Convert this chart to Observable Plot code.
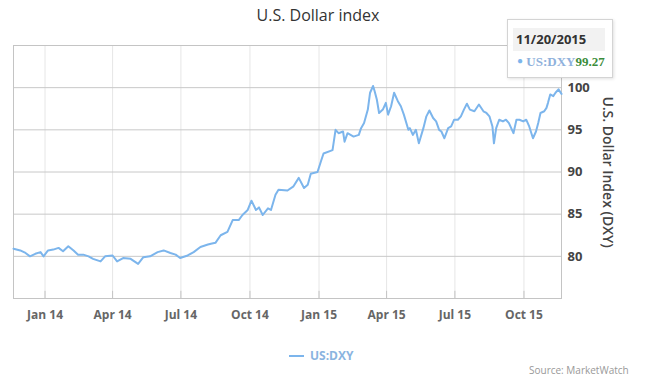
<!DOCTYPE html>
<html>
<head>
<meta charset="utf-8">
<script src="https://cdn.jsdelivr.net/npm/d3@7"></script>
<script src="https://cdn.jsdelivr.net/npm/@observablehq/plot@0.6"></script>
<style>
  html, body { margin: 0; padding: 0; background: #fff; }
  #wrap { position: relative; width: 649px; height: 387px; font-family: "Open Sans", sans-serif; overflow: hidden; }
  #chart { position: absolute; left: 0; top: 0; }
  .title { position: absolute; left: 0; width: 636px; top: 4px; text-align: center; font-size: 16px; color: #333; }
  .tip { position: absolute; left: 507px; top: 19px; width: 104px; height: 57px; border: 1px solid #d4d4d4; background: rgba(255,255,255,0.96); box-shadow: 1px 1px 3px rgba(0,0,0,0.12); }
  .tip .hd { position: absolute; left: 5px; top: 8px; width: 92px; height: 23px; background: #f2f2f2; font-size: 13px; font-weight: bold; color: #333; line-height: 23px; padding-left: 3px; box-sizing: border-box; }
  .tip .row { position: absolute; left: 9px; top: 34px; white-space: nowrap; font-family: "Liberation Serif", "Times New Roman", serif; font-weight: bold; font-size: 13px; line-height: 16px; }
  .legend { position: absolute; left: 289px; top: 347px; font-size: 12px; font-weight: bold; color: #8ab4e0; white-space: nowrap; }
  .legend .sw { display: inline-block; width: 15px; height: 2px; background: #7cb5ec; vertical-align: middle; margin-right: 6px; position: relative; top: -1px; }
  .source { position: absolute; left: 529px; top: 363px; font-size: 10px; color: #999; white-space: nowrap; }
</style>
</head>
<body>
<div id="wrap">
  <div id="chart"></div>
  <div class="title" id="title"></div>
  <div class="tip" id="tip"></div>
  <div class="legend" id="legend"></div>
  <div class="source" id="source"></div>
</div>
<script>
// ---- data ----
const chartTitle = "U.S. Dollar index";
const seriesName = "US:DXY";
const yAxisTitle = "U.S. Dollar Index (DXY)";
const sourceText = "Source: MarketWatch";
const tooltipDate = "11/20/2015";
const tooltipValue = "99.27";

const dates = [
  "2013-11-20","2013-11-29","2013-12-06","2013-12-12","2013-12-19","2013-12-26","2013-12-30",
  "2014-01-05","2014-01-12","2014-01-19","2014-01-25","2014-02-01","2014-02-08","2014-02-14",
  "2014-02-21","2014-02-28","2014-03-06","2014-03-16","2014-03-22","2014-04-01","2014-04-07",
  "2014-04-15","2014-04-25","2014-05-05","2014-05-12","2014-05-21","2014-05-31","2014-06-08",
  "2014-06-17","2014-06-24","2014-06-30","2014-07-10","2014-07-18","2014-07-27","2014-08-06",
  "2014-08-10","2014-08-16","2014-08-23","2014-09-01","2014-09-08","2014-09-16","2014-09-21",
  "2014-09-28","2014-10-03","2014-10-09","2014-10-13","2014-10-18","2014-10-25","2014-10-29",
  "2014-11-04","2014-11-08","2014-11-20","2014-11-28","2014-12-05","2014-12-12","2014-12-17",
  "2014-12-21","2014-12-30","2015-01-04","2015-01-07","2015-01-19","2015-01-23","2015-01-27",
  "2015-02-02","2015-02-04","2015-02-08","2015-02-12","2015-02-16","2015-02-23","2015-02-26",
  "2015-03-02","2015-03-07","2015-03-10","2015-03-14","2015-03-16","2015-03-19","2015-03-22",
  "2015-03-27","2015-03-31","2015-04-03","2015-04-07","2015-04-11","2015-04-16","2015-04-20",
  "2015-04-24","2015-04-30","2015-05-02","2015-05-06","2015-05-10","2015-05-14","2015-05-20",
  "2015-05-24","2015-05-28","2015-06-02","2015-06-06","2015-06-10","2015-06-13","2015-06-17",
  "2015-06-22","2015-06-26","2015-06-30","2015-07-05","2015-07-09","2015-07-13","2015-07-17",
  "2015-07-21","2015-07-27","2015-08-02","2015-08-08","2015-08-12","2015-08-16","2015-08-20",
  "2015-08-22","2015-08-25","2015-08-29","2015-09-03","2015-09-07","2015-09-11","2015-09-17",
  "2015-09-21","2015-09-25","2015-09-30","2015-10-04","2015-10-08","2015-10-13","2015-10-17",
  "2015-10-20","2015-10-23","2015-10-28","2015-10-31","2015-11-02","2015-11-05","2015-11-09",
  "2015-11-12","2015-11-16","2015-11-20"
];
const values = [
  80.9,80.7,80.4,80.0,80.3,80.5,80.0,
  80.7,80.8,81.0,80.6,81.2,80.7,80.2,
  80.2,80.0,79.7,79.4,80.0,80.1,79.4,
  79.8,79.7,79.1,79.9,80.0,80.5,80.7,
  80.4,80.2,79.8,80.1,80.5,81.1,81.4,
  81.5,81.6,82.5,82.9,84.3,84.3,84.9,
  85.5,86.6,85.5,85.8,84.9,85.7,85.5,
  87.3,87.9,87.8,88.3,89.3,88.1,88.5,
  89.8,90.0,91.4,92.2,92.6,95.0,94.6,
  94.8,93.6,94.6,94.4,94.2,94.4,95.2,
  95.8,97.4,99.4,100.2,99.6,98.6,97.0,
  97.4,98.2,96.8,97.8,99.4,98.4,97.8,
  96.8,95.0,95.2,94.4,95.0,93.4,95.2,
  96.6,97.3,96.4,96.0,95.0,94.8,94.0,
  95.2,95.4,96.2,96.2,96.6,97.4,98.1,
  97.4,97.2,98.0,97.2,97.0,96.6,95.4,
  93.4,95.2,96.2,96.0,96.2,95.8,94.6,
  96.2,96.2,96.0,96.2,95.4,94.0,94.8,
  95.8,97.0,97.2,97.6,98.2,99.2,99.0,
  99.4,99.8,99.27
];
const xTickDates = ["2014-01-01","2014-04-01","2014-07-01","2014-10-01","2015-01-01","2015-04-01","2015-07-01","2015-10-01"];
const xTickLabels = ["Jan 14","Apr 14","Jul 14","Oct 14","Jan 15","Apr 15","Jul 15","Oct 15"];
const yTicks = [80, 85, 90, 95, 100];
const xStart = "2013-11-20";
const xEnd = "2015-11-20";
const yMin = 75, yMax = 105;

// ---- build ----
const data = dates.map((d, i) => ({date: new Date(d), value: values[i]}));
const xTicks = xTickDates.map(d => new Date(d));
const lineColor = "#7cb5ec";

const chart = Plot.plot({
  width: 649,
  height: 387,
  marginTop: 45,
  marginLeft: 13,
  marginRight: 88,
  marginBottom: 89,
  style: {fontFamily: "'Open Sans', sans-serif", background: "transparent"},
  x: {type: "utc", domain: [new Date(xStart), new Date(xEnd)]},
  y: {domain: [yMin, yMax]},
  marks: [
    Plot.gridX(xTicks, {stroke: "#e6e6e6", strokeOpacity: 1}),
    Plot.gridY(yTicks, {stroke: "#c8c8c8", strokeOpacity: 1}),
    Plot.frame({stroke: "#c4c4c4"}),
    Plot.ruleX(xTicks, {y1: yMin, y2: yMin + 0.85, stroke: "#c4c4c4"}),
    Plot.line(data, {x: "date", y: "value", stroke: lineColor, strokeWidth: 2, curve: "linear"}),
    Plot.axisX(xTicks, {
      tickSize: 0, tickPadding: 12,
      tickFormat: (d, i) => xTickLabels[i],
      fontSize: 12, fontWeight: "bold", fill: "#666", label: null
    }),
    Plot.axisY(yTicks, {
      anchor: "right", tickSize: 0, tickPadding: 6,
      fontSize: 13, fontWeight: "bold", fill: "#444", label: null
    }),
    Plot.text([yAxisTitle], {
      frameAnchor: "right", dx: 46, rotate: 90,
      fontSize: 14, fontWeight: 600, fill: "#444", textAnchor: "middle"
    })
  ]
});
document.getElementById("chart").appendChild(chart);

document.getElementById("title").textContent = chartTitle;
const tip = document.getElementById("tip");
tip.innerHTML = `<div class="hd"></div><div class="row"><span style="color:${lineColor};font-size:10px;position:relative;top:-2px">\u25CF</span>&nbsp;<span class="nm" style="color:#8fb1dc"></span><span class="vl" style="color:#3b8c3b"></span></div>`;
tip.querySelector(".hd").textContent = tooltipDate;
tip.querySelector(".nm").textContent = seriesName;
tip.querySelector(".vl").textContent = tooltipValue;
const leg = document.getElementById("legend");
leg.innerHTML = `<span class="sw"></span><span class="lt"></span>`;
leg.querySelector(".lt").textContent = seriesName;
document.getElementById("source").textContent = sourceText;
</script>
</body>
</html>
